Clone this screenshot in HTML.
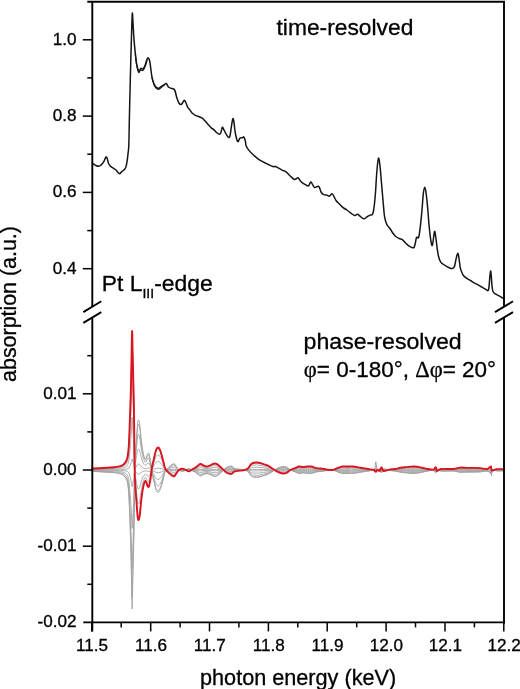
<!DOCTYPE html>
<html><head><meta charset="utf-8"><title>XAS spectra</title>
<style>html,body{margin:0;padding:0;background:#fff;width:520px;height:689px;overflow:hidden}svg{display:block}</style>
</head><body>
<svg width="520" height="689" viewBox="0 0 520 689">
<rect width="520" height="689" fill="#fff"/>
<g fill="none" stroke-linejoin="round" stroke-linecap="round">
<path d="M92.90,163.50C93.37,163.82 94.77,164.93 95.70,165.40C96.63,165.87 97.58,166.38 98.50,166.30C99.42,166.22 100.37,165.58 101.20,164.90C102.03,164.22 102.72,163.50 103.50,162.20C104.28,160.90 105.28,157.72 105.90,157.10C106.52,156.48 106.75,157.43 107.20,158.50C107.65,159.57 108.05,162.20 108.60,163.50C109.15,164.80 109.73,165.52 110.50,166.30C111.27,167.08 112.28,167.58 113.20,168.20C114.12,168.82 115.22,169.32 116.00,170.00C116.78,170.68 117.28,171.68 117.90,172.30C118.52,172.92 119.10,173.77 119.70,173.70C120.30,173.63 120.88,172.43 121.50,171.90C122.12,171.37 122.80,171.05 123.40,170.50C124.00,169.95 124.63,169.37 125.10,168.60C125.57,167.83 125.87,167.13 126.20,165.90C126.53,164.67 126.80,163.20 127.10,161.20C127.40,159.20 127.72,156.52 128.00,153.90C128.28,151.28 128.58,150.82 128.80,145.50C129.02,140.18 129.13,129.60 129.30,122.00C129.47,114.40 129.55,110.22 129.80,99.90C130.05,89.58 130.50,71.33 130.80,60.10C131.10,48.87 131.35,40.30 131.60,32.50C131.85,24.70 132.07,14.90 132.30,13.30C132.53,11.70 132.72,18.55 133.00,22.90C133.28,27.25 133.62,34.35 134.00,39.40C134.38,44.45 134.85,49.07 135.30,53.20C135.75,57.33 136.12,61.22 136.70,64.20C137.28,67.18 138.12,70.40 138.80,71.10C139.48,71.80 140.12,68.75 140.80,68.40C141.48,68.05 142.20,69.47 142.90,69.00C143.60,68.53 144.32,67.20 145.00,65.60C145.68,64.00 146.43,60.67 147.00,59.40C147.57,58.13 147.93,57.65 148.40,58.00C148.87,58.35 149.22,58.40 149.80,61.50C150.38,64.60 151.22,72.93 151.90,76.60C152.58,80.27 153.22,81.77 153.90,83.50C154.58,85.23 155.20,86.20 156.00,87.00C156.80,87.80 157.78,88.42 158.70,88.30C159.62,88.18 160.57,86.92 161.50,86.30C162.43,85.68 163.50,85.07 164.30,84.60C165.10,84.13 165.62,83.10 166.30,83.50C166.98,83.90 167.60,86.20 168.40,87.00C169.20,87.80 170.07,87.80 171.10,88.30C172.13,88.80 173.63,88.37 174.60,90.00C175.57,91.63 176.13,95.85 176.90,98.10C177.67,100.35 178.43,102.48 179.20,103.50C179.97,104.52 180.85,104.47 181.50,104.20C182.15,103.93 182.58,102.53 183.10,101.90C183.62,101.27 184.08,100.13 184.60,100.40C185.12,100.67 185.68,102.35 186.20,103.50C186.72,104.65 187.07,106.20 187.70,107.30C188.33,108.40 189.23,109.12 190.00,110.10C190.77,111.08 191.40,112.33 192.30,113.20C193.20,114.07 194.25,114.70 195.40,115.30C196.55,115.90 198.05,116.33 199.20,116.80C200.35,117.27 201.40,117.50 202.30,118.10C203.20,118.70 203.70,119.43 204.60,120.40C205.50,121.37 206.55,122.62 207.70,123.90C208.85,125.18 210.48,127.15 211.50,128.10C212.52,129.05 213.02,128.92 213.80,129.60C214.58,130.28 215.30,131.43 216.20,132.20C217.10,132.97 218.43,134.12 219.20,134.20C219.97,134.28 220.28,133.85 220.80,132.70C221.32,131.55 221.80,127.82 222.30,127.30C222.80,126.78 223.15,128.45 223.80,129.60C224.45,130.75 225.42,132.92 226.20,134.20C226.98,135.48 227.87,137.03 228.50,137.30C229.13,137.57 229.50,137.72 230.00,135.80C230.50,133.88 231.03,128.63 231.50,125.80C231.97,122.97 232.42,119.57 232.80,118.80C233.18,118.03 233.37,118.75 233.80,121.20C234.23,123.65 234.75,130.12 235.40,133.50C236.05,136.88 236.93,140.73 237.70,141.50C238.47,142.27 239.23,138.72 240.00,138.10C240.77,137.48 241.67,137.98 242.30,137.80C242.93,137.62 243.28,136.43 243.80,137.00C244.32,137.57 245.02,139.73 245.40,141.20C245.78,142.67 245.55,144.32 246.10,145.80C246.65,147.28 247.42,148.52 248.70,150.10C249.98,151.68 252.08,153.72 253.80,155.30C255.52,156.88 256.97,158.25 259.00,159.60C261.03,160.95 263.68,162.25 266.00,163.40C268.32,164.55 271.32,165.98 272.90,166.50C274.48,167.02 274.63,166.27 275.50,166.50C276.37,166.73 276.95,167.27 278.10,167.90C279.25,168.53 281.12,169.67 282.40,170.30C283.68,170.93 284.50,170.75 285.80,171.70C287.10,172.65 288.75,174.70 290.20,176.00C291.65,177.30 293.20,179.20 294.50,179.50C295.80,179.80 296.98,177.52 298.00,177.80C299.02,178.08 299.60,180.20 300.60,181.20C301.60,182.20 302.72,183.02 304.00,183.80C305.28,184.58 307.15,186.18 308.30,185.90C309.45,185.62 309.88,181.87 310.90,182.10C311.92,182.33 313.10,186.58 314.40,187.30C315.70,188.02 317.55,185.53 318.70,186.40C319.85,187.27 320.45,191.13 321.30,192.50C322.15,193.87 322.87,194.17 323.80,194.60C324.73,195.03 326.00,194.83 326.90,195.10C327.80,195.37 328.35,196.42 329.20,196.20C330.05,195.98 331.23,193.80 332.00,193.80C332.77,193.80 333.10,195.03 333.80,196.20C334.50,197.37 335.30,199.53 336.20,200.80C337.10,202.07 338.05,202.65 339.20,203.80C340.35,204.95 341.82,206.67 343.10,207.70C344.38,208.73 345.62,209.10 346.90,210.00C348.18,210.90 349.52,212.20 350.80,213.10C352.08,214.00 353.45,215.22 354.60,215.40C355.75,215.58 356.80,214.07 357.70,214.20C358.60,214.33 358.98,215.43 360.00,216.20C361.02,216.97 362.65,218.68 363.80,218.80C364.95,218.92 365.87,217.52 366.90,216.90C367.93,216.28 369.10,215.48 370.00,215.10C370.90,214.72 371.67,215.58 372.30,214.60C372.93,213.62 373.28,212.67 373.80,209.20C374.32,205.73 374.88,200.20 375.40,193.80C375.92,187.40 376.38,176.73 376.90,170.80C377.42,164.87 377.98,158.97 378.50,158.20C379.02,157.43 379.50,162.05 380.00,166.20C380.50,170.35 380.98,177.22 381.50,183.10C382.02,188.98 382.58,195.87 383.10,201.50C383.62,207.13 383.97,213.05 384.60,216.90C385.23,220.75 386.00,222.67 386.90,224.60C387.80,226.53 389.10,227.22 390.00,228.50C390.90,229.78 391.40,231.02 392.30,232.30C393.20,233.58 394.25,235.17 395.40,236.20C396.55,237.23 398.05,237.93 399.20,238.50C400.35,239.07 401.30,238.93 402.30,239.60C403.30,240.27 404.23,241.53 405.20,242.50C406.17,243.47 407.13,244.63 408.10,245.40C409.07,246.17 410.03,246.73 411.00,247.10C411.97,247.47 413.18,248.25 413.90,247.60C414.62,246.95 414.87,244.90 415.30,243.20C415.73,241.50 416.07,238.25 416.50,237.40C416.93,236.55 417.48,238.33 417.90,238.10C418.32,237.87 418.58,238.05 419.00,236.00C419.42,233.95 419.92,229.92 420.40,225.80C420.88,221.68 421.42,216.62 421.90,211.30C422.38,205.98 422.82,197.90 423.30,193.90C423.78,189.90 424.32,187.30 424.80,187.30C425.28,187.30 425.72,190.38 426.20,193.90C426.68,197.42 427.22,203.08 427.70,208.40C428.18,213.72 428.62,220.72 429.10,225.80C429.58,230.88 430.12,235.63 430.60,238.90C431.08,242.17 431.60,244.92 432.00,245.40C432.40,245.88 432.58,244.10 433.00,241.80C433.42,239.50 434.07,232.57 434.50,231.60C434.93,230.63 435.17,233.33 435.60,236.00C436.03,238.67 436.62,244.22 437.10,247.60C437.58,250.98 437.90,253.88 438.50,256.30C439.10,258.72 439.73,260.65 440.70,262.10C441.67,263.55 442.97,264.10 444.30,265.00C445.63,265.90 447.37,266.90 448.70,267.50C450.03,268.10 451.33,268.78 452.30,268.60C453.27,268.42 453.88,267.97 454.50,266.40C455.12,264.83 455.47,261.37 456.00,259.20C456.53,257.03 457.22,253.65 457.70,253.40C458.18,253.15 458.47,255.28 458.90,257.70C459.33,260.12 459.82,265.48 460.30,267.90C460.78,270.32 461.32,270.98 461.80,272.20C462.28,273.42 462.42,274.22 463.20,275.20C463.98,276.18 465.30,277.22 466.50,278.10C467.70,278.98 469.12,279.70 470.40,280.50C471.68,281.30 472.92,282.18 474.20,282.90C475.48,283.62 476.82,284.08 478.10,284.80C479.38,285.52 480.62,286.43 481.90,287.20C483.18,287.97 484.75,288.83 485.80,289.40C486.85,289.97 487.65,291.20 488.20,290.60C488.75,290.00 488.83,288.05 489.10,285.80C489.37,283.55 489.55,279.58 489.80,277.10C490.05,274.62 490.35,271.05 490.60,270.90C490.85,270.75 491.07,273.72 491.30,276.20C491.53,278.68 491.72,283.25 492.00,285.80C492.28,288.35 492.43,290.15 493.00,291.50C493.57,292.85 494.37,293.17 495.40,293.90C496.43,294.63 497.92,295.17 499.20,295.90C500.48,296.63 502.45,297.90 503.10,298.30" stroke="#151515" stroke-width="1.5"/>
<path d="M135.30,54.00C135.53,55.87 136.15,62.13 136.70,65.20C137.25,68.27 137.95,71.60 138.60,72.40C139.25,73.20 139.90,70.30 140.60,70.00C141.30,69.70 142.07,71.13 142.80,70.60C143.53,70.07 144.30,68.47 145.00,66.80C145.70,65.13 146.67,61.63 147.00,60.60" stroke="#151515" stroke-width="1.2"/>
<path d="M151.90,77.60C152.23,78.75 153.22,82.73 153.90,84.50C154.58,86.27 155.20,87.38 156.00,88.20C156.80,89.02 157.78,89.53 158.70,89.40C159.62,89.27 160.57,88.07 161.50,87.40C162.43,86.73 163.83,85.73 164.30,85.40" stroke="#151515" stroke-width="1.1"/>
<path d="M92.20,468.67C93.28,468.62 96.18,468.53 98.70,468.38C101.22,468.24 104.72,467.97 107.30,467.81C109.88,467.66 112.18,467.64 114.20,467.44C116.22,467.23 118.18,466.83 119.40,466.58C120.62,466.33 120.82,466.20 121.50,465.91C122.18,465.63 122.88,465.36 123.50,464.87C124.12,464.38 124.68,463.70 125.20,462.97C125.72,462.24 126.20,461.45 126.60,460.50C127.00,459.55 127.25,459.28 127.60,457.27C127.95,455.26 128.38,452.65 128.70,448.44C129.02,444.22 129.25,437.91 129.50,432.00C129.75,426.09 130.00,418.54 130.20,413.00C130.40,407.46 130.48,406.67 130.70,398.75C130.92,390.83 131.27,375.63 131.50,365.50C131.73,355.37 131.90,338.74 132.10,337.95C132.30,337.16 132.50,352.99 132.70,360.75C132.90,368.51 133.12,377.38 133.30,384.50C133.48,391.62 133.65,395.58 133.80,403.50C133.95,411.42 134.08,422.50 134.20,432.00C134.32,441.50 134.40,453.22 134.50,460.50C134.60,467.78 134.67,471.58 134.80,475.70C134.93,479.82 135.12,482.35 135.30,485.20C135.48,488.05 135.67,489.81 135.90,492.80C136.13,495.79 136.42,499.64 136.70,503.15C136.98,506.67 137.30,511.48 137.60,513.89C137.90,516.30 138.13,517.74 138.50,517.60C138.87,517.45 139.45,515.17 139.80,513.03C140.15,510.90 140.23,508.08 140.60,504.77C140.97,501.46 141.55,496.35 142.00,493.18C142.45,490.01 142.80,487.84 143.30,485.77C143.80,483.70 144.50,481.43 145.00,480.74C145.50,480.04 145.87,480.83 146.30,481.59C146.73,482.35 147.17,484.60 147.60,485.30C148.03,485.99 148.47,486.66 148.90,485.77C149.33,484.88 149.83,481.91 150.20,479.98C150.57,478.04 150.82,476.17 151.10,474.18C151.38,472.18 151.45,470.41 151.90,468.00C152.35,465.60 153.20,462.26 153.80,459.74C154.40,457.22 155.00,454.59 155.50,452.90C156.00,451.21 156.35,450.29 156.80,449.57C157.25,448.86 157.70,448.47 158.20,448.62C158.70,448.78 159.25,449.43 159.80,450.52C160.35,451.62 160.88,453.18 161.50,455.18C162.12,457.17 162.93,460.36 163.50,462.50C164.07,464.63 164.35,466.63 164.90,468.00C165.45,469.38 166.08,469.92 166.80,470.76C167.52,471.60 168.32,472.28 169.20,473.04C170.08,473.80 171.22,474.86 172.10,475.32C172.98,475.78 173.78,476.18 174.50,475.80C175.22,475.42 175.68,473.96 176.40,473.04C177.12,472.12 177.92,470.98 178.80,470.29C179.68,469.59 180.73,469.02 181.70,468.86C182.67,468.70 183.63,469.02 184.60,469.34C185.57,469.65 186.70,470.44 187.50,470.76C188.30,471.08 188.60,471.47 189.40,471.24C190.20,471.00 191.33,469.87 192.30,469.34C193.27,468.80 194.23,468.61 195.20,468.00C196.17,467.40 197.20,466.34 198.10,465.73C199.00,465.11 199.45,464.21 200.60,464.30C201.75,464.39 203.68,465.96 205.00,466.30C206.32,466.63 207.18,466.63 208.50,466.30C209.82,465.96 211.57,464.66 212.90,464.30C214.23,463.94 215.07,463.49 216.50,464.11C217.93,464.73 220.02,466.75 221.50,468.00C222.98,469.26 224.12,470.70 225.40,471.62C226.68,472.53 228.08,473.20 229.20,473.51C230.32,473.83 231.30,473.83 232.10,473.51C232.90,473.20 233.03,472.07 234.00,471.62C234.97,471.16 236.45,470.97 237.90,470.76C239.35,470.55 241.10,470.70 242.70,470.38C244.30,470.06 246.07,469.87 247.50,468.86C248.93,467.85 250.18,465.27 251.30,464.30C252.42,463.33 252.97,463.27 254.20,463.06C255.43,462.86 257.15,462.83 258.70,463.06C260.25,463.30 261.90,464.00 263.50,464.49C265.10,464.98 266.70,465.25 268.30,466.01C269.90,466.77 271.50,468.08 273.10,469.05C274.70,470.02 276.30,471.09 277.90,471.80C279.50,472.52 281.27,473.17 282.70,473.32C284.13,473.48 285.22,473.31 286.50,472.75C287.78,472.20 288.95,470.76 290.40,470.00C291.85,469.24 293.77,468.75 295.20,468.20C296.63,467.64 297.72,466.83 299.00,466.68C300.28,466.52 301.45,467.25 302.90,467.25C304.35,467.25 306.27,466.77 307.70,466.68C309.13,466.58 310.07,466.42 311.50,466.68C312.93,466.93 314.68,467.88 316.30,468.20C317.92,468.51 319.43,468.34 321.20,468.57C322.97,468.81 324.98,469.38 326.90,469.62C328.82,469.86 330.93,470.24 332.70,470.00C334.47,469.76 335.90,468.75 337.50,468.20C339.10,467.64 340.53,466.93 342.30,466.68C344.07,466.42 346.37,466.68 348.10,466.68C349.83,466.68 350.65,466.49 352.70,466.68C354.75,466.87 357.83,467.42 360.40,467.81C362.97,468.21 365.87,468.69 368.10,469.05C370.33,469.41 372.52,469.54 373.80,470.00C375.08,470.46 375.15,471.87 375.80,471.80C376.45,471.74 377.07,469.76 377.70,469.62C378.33,469.48 378.97,471.35 379.60,470.95C380.23,470.55 380.85,467.25 381.50,467.25C382.15,467.25 382.22,470.55 383.50,470.95C384.78,471.35 387.28,469.94 389.20,469.62C391.12,469.30 393.07,469.35 395.00,469.05C396.93,468.75 398.88,468.12 400.80,467.81C402.72,467.51 404.27,467.44 406.50,467.25C408.73,467.06 411.63,466.58 414.20,466.68C416.77,466.77 419.65,467.42 421.90,467.81C424.15,468.21 425.77,468.75 427.70,469.05C429.63,469.35 432.15,469.92 433.50,469.62C434.85,469.32 435.23,467.02 435.80,467.25C436.37,467.47 436.00,470.65 436.90,470.95C437.80,471.25 438.43,469.37 441.20,469.05C443.97,468.73 450.33,469.27 453.50,469.05C456.67,468.83 457.97,467.89 460.20,467.72C462.43,467.55 464.67,467.96 466.90,468.00C469.13,468.05 471.35,467.97 473.60,468.00C475.85,468.04 478.15,468.02 480.40,468.20C482.65,468.37 485.35,469.30 487.10,469.05C488.85,468.80 490.12,466.42 490.90,466.68C491.68,466.93 490.87,470.14 491.80,470.57C492.73,471.00 494.58,469.46 496.50,469.24C498.42,469.02 502.17,469.24 503.30,469.24" stroke="#a2a2a2" stroke-width="0.9"/>
<path d="M92.20,469.05C93.28,469.01 96.18,468.95 98.70,468.84C101.22,468.74 104.72,468.55 107.30,468.44C109.88,468.32 112.18,468.31 114.20,468.16C116.22,468.02 118.18,467.73 119.40,467.55C120.62,467.37 120.82,467.28 121.50,467.08C122.18,466.87 122.88,466.68 123.50,466.33C124.12,465.98 124.68,465.49 125.20,464.97C125.72,464.45 126.20,463.88 126.60,463.20C127.00,462.52 127.25,462.33 127.60,460.89C127.95,459.45 128.38,457.58 128.70,454.56C129.02,451.55 129.25,447.03 129.50,442.80C129.75,438.57 130.00,433.17 130.20,429.20C130.40,425.23 130.48,424.67 130.70,419.00C130.92,413.33 131.27,402.45 131.50,395.20C131.73,387.95 131.90,376.05 132.10,375.48C132.30,374.91 132.50,386.25 132.70,391.80C132.90,397.35 133.12,403.70 133.30,408.80C133.48,413.90 133.65,416.73 133.80,422.40C133.95,428.07 134.08,436.00 134.20,442.80C134.32,449.60 134.40,457.99 134.50,463.20C134.60,468.41 134.67,471.13 134.80,474.08C134.93,477.03 135.12,478.84 135.30,480.88C135.48,482.92 135.67,484.18 135.90,486.32C136.13,488.46 136.42,491.22 136.70,493.73C136.98,496.25 137.30,499.69 137.60,501.42C137.90,503.14 138.13,504.17 138.50,504.07C138.87,503.97 139.45,502.33 139.80,500.80C140.15,499.27 140.23,497.26 140.60,494.89C140.97,492.52 141.55,488.86 142.00,486.59C142.45,484.33 142.80,482.77 143.30,481.29C143.80,479.80 144.50,478.18 145.00,477.68C145.50,477.19 145.87,477.75 146.30,478.30C146.73,478.84 147.17,480.45 147.60,480.95C148.03,481.45 148.47,481.92 148.90,481.29C149.33,480.65 149.83,478.52 150.20,477.14C150.57,475.76 150.82,474.42 151.10,472.99C151.38,471.56 151.45,470.29 151.90,468.57C152.35,466.85 153.20,464.46 153.80,462.66C154.40,460.85 155.00,458.97 155.50,457.76C156.00,456.55 156.35,455.89 156.80,455.38C157.25,454.87 157.70,454.59 158.20,454.70C158.70,454.81 159.25,455.28 159.80,456.06C160.35,456.84 160.88,457.96 161.50,459.39C162.12,460.82 162.93,463.10 163.50,464.63C164.07,466.16 164.35,467.59 164.90,468.57C165.45,469.56 166.08,469.94 166.80,470.54C167.52,471.14 168.32,471.63 169.20,472.18C170.08,472.72 171.22,473.48 172.10,473.81C172.98,474.14 173.78,474.42 174.50,474.15C175.22,473.88 175.68,472.83 176.40,472.18C177.12,471.52 177.92,470.70 178.80,470.20C179.68,469.71 180.73,469.30 181.70,469.18C182.67,469.07 183.63,469.30 184.60,469.52C185.57,469.75 186.70,470.32 187.50,470.54C188.30,470.77 188.60,471.05 189.40,470.88C190.20,470.71 191.33,469.91 192.30,469.52C193.27,469.14 194.23,469.00 195.20,468.57C196.17,468.14 197.20,467.38 198.10,466.94C199.00,466.50 199.45,465.85 200.60,465.92C201.75,465.99 203.68,467.11 205.00,467.35C206.32,467.59 207.18,467.59 208.50,467.35C209.82,467.11 211.57,466.18 212.90,465.92C214.23,465.66 215.07,465.34 216.50,465.78C217.93,466.23 220.02,467.68 221.50,468.57C222.98,469.47 224.12,470.50 225.40,471.16C226.68,471.81 228.08,472.29 229.20,472.52C230.32,472.74 231.30,472.74 232.10,472.52C232.90,472.29 233.03,471.48 234.00,471.16C234.97,470.83 236.45,470.69 237.90,470.54C239.35,470.40 241.10,470.50 242.70,470.27C244.30,470.05 246.07,469.91 247.50,469.18C248.93,468.46 250.18,466.61 251.30,465.92C252.42,465.23 252.97,465.18 254.20,465.04C255.43,464.89 257.15,464.87 258.70,465.04C260.25,465.21 261.90,465.70 263.50,466.06C265.10,466.41 266.70,466.60 268.30,467.14C269.90,467.69 271.50,468.63 273.10,469.32C274.70,470.01 276.30,470.78 277.90,471.29C279.50,471.80 281.27,472.27 282.70,472.38C284.13,472.49 285.22,472.37 286.50,471.97C287.78,471.58 288.95,470.54 290.40,470.00C291.85,469.46 293.77,469.10 295.20,468.71C296.63,468.31 297.72,467.73 299.00,467.62C300.28,467.51 301.45,468.03 302.90,468.03C304.35,468.03 306.27,467.69 307.70,467.62C309.13,467.55 310.07,467.44 311.50,467.62C312.93,467.80 314.68,468.48 316.30,468.71C317.92,468.93 319.43,468.81 321.20,468.98C322.97,469.15 324.98,469.56 326.90,469.73C328.82,469.90 330.93,470.17 332.70,470.00C334.47,469.83 335.90,469.10 337.50,468.71C339.10,468.31 340.53,467.80 342.30,467.62C344.07,467.44 346.37,467.62 348.10,467.62C349.83,467.62 350.65,467.48 352.70,467.62C354.75,467.76 357.83,468.15 360.40,468.44C362.97,468.72 365.87,469.06 368.10,469.32C370.33,469.58 372.52,469.67 373.80,470.00C375.08,470.33 375.15,471.34 375.80,471.29C376.45,471.25 377.07,469.83 377.70,469.73C378.33,469.63 378.97,470.96 379.60,470.68C380.23,470.40 380.85,468.03 381.50,468.03C382.15,468.03 382.22,470.40 383.50,470.68C384.78,470.96 387.28,469.95 389.20,469.73C391.12,469.50 393.07,469.54 395.00,469.32C396.93,469.10 398.88,468.65 400.80,468.44C402.72,468.22 404.27,468.16 406.50,468.03C408.73,467.89 411.63,467.55 414.20,467.62C416.77,467.69 419.65,468.15 421.90,468.44C424.15,468.72 425.77,469.10 427.70,469.32C429.63,469.54 432.15,469.94 433.50,469.73C434.85,469.51 435.23,467.87 435.80,468.03C436.37,468.19 436.00,470.46 436.90,470.68C437.80,470.90 438.43,469.55 441.20,469.32C443.97,469.09 450.33,469.48 453.50,469.32C456.67,469.16 457.97,468.49 460.20,468.37C462.43,468.24 464.67,468.54 466.90,468.57C469.13,468.61 471.35,468.55 473.60,468.57C475.85,468.59 478.15,468.58 480.40,468.71C482.65,468.83 485.35,469.50 487.10,469.32C488.85,469.14 490.12,467.44 490.90,467.62C491.68,467.80 490.87,470.10 491.80,470.41C492.73,470.71 494.58,469.61 496.50,469.46C498.42,469.30 502.17,469.46 503.30,469.46" stroke="#a2a2a2" stroke-width="0.9"/>
<path d="M92.20,469.47C93.28,469.45 96.18,469.41 98.70,469.35C101.22,469.30 104.72,469.19 107.30,469.13C109.88,469.06 112.18,469.06 114.20,468.97C116.22,468.89 118.18,468.73 119.40,468.63C120.62,468.53 120.82,468.48 121.50,468.37C122.18,468.25 122.88,468.14 123.50,467.95C124.12,467.75 124.68,467.48 125.20,467.19C125.72,466.90 126.20,466.58 126.60,466.20C127.00,465.82 127.25,465.71 127.60,464.91C127.95,464.10 128.38,463.06 128.70,461.37C129.02,459.69 129.25,457.16 129.50,454.80C129.75,452.44 130.00,449.42 130.20,447.20C130.40,444.98 130.48,444.67 130.70,441.50C130.92,438.33 131.27,432.25 131.50,428.20C131.73,424.15 131.90,417.50 132.10,417.18C132.30,416.86 132.50,423.20 132.70,426.30C132.90,429.40 133.12,432.95 133.30,435.80C133.48,438.65 133.65,440.23 133.80,443.40C133.95,446.57 134.08,451.00 134.20,454.80C134.32,458.60 134.40,463.29 134.50,466.20C134.60,469.11 134.67,470.63 134.80,472.28C134.93,473.93 135.12,474.94 135.30,476.08C135.48,477.22 135.67,477.92 135.90,479.12C136.13,480.32 136.42,481.86 136.70,483.26C136.98,484.67 137.30,486.59 137.60,487.56C137.90,488.52 138.13,489.10 138.50,489.04C138.87,488.98 139.45,488.07 139.80,487.21C140.15,486.36 140.23,485.23 140.60,483.91C140.97,482.58 141.55,480.54 142.00,479.27C142.45,478.01 142.80,477.14 143.30,476.31C143.80,475.48 144.50,474.57 145.00,474.29C145.50,474.02 145.87,474.33 146.30,474.64C146.73,474.94 147.17,475.84 147.60,476.12C148.03,476.40 148.47,476.66 148.90,476.31C149.33,475.95 149.83,474.76 150.20,473.99C150.57,473.22 150.82,472.47 151.10,471.67C151.38,470.87 151.45,470.16 151.90,469.20C152.35,468.24 153.20,466.90 153.80,465.90C154.40,464.89 155.00,463.84 155.50,463.16C156.00,462.48 156.35,462.12 156.80,461.83C157.25,461.54 157.70,461.39 158.20,461.45C158.70,461.51 159.25,461.77 159.80,462.21C160.35,462.65 160.88,463.27 161.50,464.07C162.12,464.87 162.93,466.14 163.50,467.00C164.07,467.85 164.35,468.65 164.90,469.20C165.45,469.75 166.08,469.97 166.80,470.30C167.52,470.64 168.32,470.91 169.20,471.22C170.08,471.52 171.22,471.94 172.10,472.13C172.98,472.31 173.78,472.47 174.50,472.32C175.22,472.17 175.68,471.58 176.40,471.22C177.12,470.85 177.92,470.39 178.80,470.11C179.68,469.84 180.73,469.61 181.70,469.54C182.67,469.48 183.63,469.61 184.60,469.73C185.57,469.86 186.70,470.18 187.50,470.30C188.30,470.43 188.60,470.59 189.40,470.49C190.20,470.40 191.33,469.95 192.30,469.73C193.27,469.52 194.23,469.44 195.20,469.20C196.17,468.96 197.20,468.54 198.10,468.29C199.00,468.04 199.45,467.68 200.60,467.72C201.75,467.76 203.68,468.39 205.00,468.52C206.32,468.65 207.18,468.65 208.50,468.52C209.82,468.39 211.57,467.87 212.90,467.72C214.23,467.57 215.07,467.40 216.50,467.64C217.93,467.89 220.02,468.70 221.50,469.20C222.98,469.70 224.12,470.28 225.40,470.65C226.68,471.01 228.08,471.28 229.20,471.41C230.32,471.53 231.30,471.53 232.10,471.41C232.90,471.28 233.03,470.83 234.00,470.65C234.97,470.46 236.45,470.39 237.90,470.30C239.35,470.22 241.10,470.28 242.70,470.15C244.30,470.03 246.07,469.95 247.50,469.54C248.93,469.14 250.18,468.11 251.30,467.72C252.42,467.33 252.97,467.31 254.20,467.23C255.43,467.14 257.15,467.13 258.70,467.23C260.25,467.32 261.90,467.60 263.50,467.80C265.10,467.99 266.70,468.10 268.30,468.40C269.90,468.71 271.50,469.23 273.10,469.62C274.70,470.01 276.30,470.44 277.90,470.72C279.50,471.01 281.27,471.27 282.70,471.33C284.13,471.39 285.22,471.32 286.50,471.10C287.78,470.88 288.95,470.30 290.40,470.00C291.85,469.70 293.77,469.50 295.20,469.28C296.63,469.06 297.72,468.73 299.00,468.67C300.28,468.61 301.45,468.90 302.90,468.90C304.35,468.90 306.27,468.71 307.70,468.67C309.13,468.63 310.07,468.57 311.50,468.67C312.93,468.77 314.68,469.15 316.30,469.28C317.92,469.40 319.43,469.34 321.20,469.43C322.97,469.52 324.98,469.75 326.90,469.85C328.82,469.94 330.93,470.10 332.70,470.00C334.47,469.90 335.90,469.50 337.50,469.28C339.10,469.06 340.53,468.77 342.30,468.67C344.07,468.57 346.37,468.67 348.10,468.67C349.83,468.67 350.65,468.59 352.70,468.67C354.75,468.75 357.83,468.97 360.40,469.13C362.97,469.28 365.87,469.47 368.10,469.62C370.33,469.77 372.52,469.82 373.80,470.00C375.08,470.18 375.15,470.75 375.80,470.72C376.45,470.70 377.07,469.91 377.70,469.85C378.33,469.79 378.97,470.54 379.60,470.38C380.23,470.22 380.85,468.90 381.50,468.90C382.15,468.90 382.22,470.22 383.50,470.38C384.78,470.54 387.28,469.97 389.20,469.85C391.12,469.72 393.07,469.74 395.00,469.62C396.93,469.50 398.88,469.25 400.80,469.13C402.72,469.01 404.27,468.97 406.50,468.90C408.73,468.82 411.63,468.63 414.20,468.67C416.77,468.71 419.65,468.97 421.90,469.13C424.15,469.28 425.77,469.50 427.70,469.62C429.63,469.74 432.15,469.97 433.50,469.85C434.85,469.73 435.23,468.81 435.80,468.90C436.37,468.99 436.00,470.26 436.90,470.38C437.80,470.50 438.43,469.75 441.20,469.62C443.97,469.49 450.33,469.71 453.50,469.62C456.67,469.53 457.97,469.16 460.20,469.09C462.43,469.02 464.67,469.18 466.90,469.20C469.13,469.22 471.35,469.19 473.60,469.20C475.85,469.21 478.15,469.21 480.40,469.28C482.65,469.35 485.35,469.72 487.10,469.62C488.85,469.52 490.12,468.57 490.90,468.67C491.68,468.77 490.87,470.06 491.80,470.23C492.73,470.40 494.58,469.78 496.50,469.70C498.42,469.61 502.17,469.70 503.30,469.70" stroke="#a2a2a2" stroke-width="0.9"/>
<path d="M92.20,469.89C93.28,469.88 96.18,469.88 98.70,469.86C101.22,469.85 104.72,469.83 107.30,469.82C109.88,469.80 112.18,469.80 114.20,469.78C116.22,469.77 118.18,469.73 119.40,469.71C120.62,469.69 120.82,469.68 121.50,469.66C122.18,469.63 122.88,469.61 123.50,469.57C124.12,469.53 124.68,469.47 125.20,469.41C125.72,469.35 126.20,469.28 126.60,469.20C127.00,469.12 127.25,469.10 127.60,468.93C127.95,468.76 128.38,468.54 128.70,468.18C129.02,467.83 129.25,467.30 129.50,466.80C129.75,466.30 130.00,465.67 130.20,465.20C130.40,464.73 130.48,464.67 130.70,464.00C130.92,463.33 131.27,462.05 131.50,461.20C131.73,460.35 131.90,458.95 132.10,458.88C132.30,458.81 132.50,460.15 132.70,460.80C132.90,461.45 133.12,462.20 133.30,462.80C133.48,463.40 133.65,463.73 133.80,464.40C133.95,465.07 134.08,466.00 134.20,466.80C134.32,467.60 134.40,468.59 134.50,469.20C134.60,469.81 134.67,470.13 134.80,470.48C134.93,470.83 135.12,471.04 135.30,471.28C135.48,471.52 135.67,471.67 135.90,471.92C136.13,472.17 136.42,472.50 136.70,472.79C136.98,473.09 137.30,473.49 137.60,473.70C137.90,473.90 138.13,474.02 138.50,474.01C138.87,474.00 139.45,473.80 139.80,473.62C140.15,473.44 140.23,473.21 140.60,472.93C140.97,472.65 141.55,472.22 142.00,471.95C142.45,471.69 142.80,471.50 143.30,471.33C143.80,471.15 144.50,470.96 145.00,470.90C145.50,470.85 145.87,470.91 146.30,470.98C146.73,471.04 147.17,471.23 147.60,471.29C148.03,471.35 148.47,471.40 148.90,471.33C149.33,471.25 149.83,471.00 150.20,470.84C150.57,470.68 150.82,470.52 151.10,470.35C151.38,470.18 151.45,470.03 151.90,469.83C152.35,469.63 153.20,469.35 153.80,469.14C154.40,468.92 155.00,468.70 155.50,468.56C156.00,468.42 156.35,468.34 156.80,468.28C157.25,468.22 157.70,468.19 158.20,468.20C158.70,468.21 159.25,468.27 159.80,468.36C160.35,468.45 160.88,468.58 161.50,468.75C162.12,468.92 162.93,469.19 163.50,469.37C164.07,469.55 164.35,469.72 164.90,469.83C165.45,469.95 166.08,469.99 166.80,470.06C167.52,470.13 168.32,470.19 169.20,470.26C170.08,470.32 171.22,470.41 172.10,470.45C172.98,470.49 173.78,470.52 174.50,470.49C175.22,470.46 175.68,470.33 176.40,470.26C177.12,470.18 177.92,470.08 178.80,470.02C179.68,469.97 180.73,469.92 181.70,469.90C182.67,469.89 183.63,469.92 184.60,469.94C185.57,469.97 186.70,470.04 187.50,470.06C188.30,470.09 188.60,470.12 189.40,470.10C190.20,470.08 191.33,469.99 192.30,469.94C193.27,469.90 194.23,469.88 195.20,469.83C196.17,469.78 197.20,469.69 198.10,469.64C199.00,469.59 199.45,469.51 200.60,469.52C201.75,469.53 203.68,469.66 205.00,469.69C206.32,469.72 207.18,469.72 208.50,469.69C209.82,469.66 211.57,469.55 212.90,469.52C214.23,469.49 215.07,469.45 216.50,469.50C217.93,469.56 220.02,469.73 221.50,469.83C222.98,469.94 224.12,470.06 225.40,470.14C226.68,470.21 228.08,470.27 229.20,470.30C230.32,470.32 231.30,470.32 232.10,470.30C232.90,470.27 233.03,470.17 234.00,470.14C234.97,470.10 236.45,470.08 237.90,470.06C239.35,470.05 241.10,470.06 242.70,470.03C244.30,470.01 246.07,469.99 247.50,469.90C248.93,469.82 250.18,469.60 251.30,469.52C252.42,469.44 252.97,469.43 254.20,469.42C255.43,469.40 257.15,469.40 258.70,469.42C260.25,469.44 261.90,469.49 263.50,469.54C265.10,469.58 266.70,469.60 268.30,469.66C269.90,469.73 271.50,469.84 273.10,469.92C274.70,470.00 276.30,470.09 277.90,470.15C279.50,470.21 281.27,470.27 282.70,470.28C284.13,470.29 285.22,470.28 286.50,470.23C287.78,470.19 288.95,470.06 290.40,470.00C291.85,469.94 293.77,469.89 295.20,469.85C296.63,469.80 297.72,469.73 299.00,469.72C300.28,469.71 301.45,469.77 302.90,469.77C304.35,469.77 306.27,469.73 307.70,469.72C309.13,469.71 310.07,469.70 311.50,469.72C312.93,469.74 314.68,469.82 316.30,469.85C317.92,469.87 319.43,469.86 321.20,469.88C322.97,469.90 324.98,469.95 326.90,469.97C328.82,469.99 330.93,470.02 332.70,470.00C334.47,469.98 335.90,469.89 337.50,469.85C339.10,469.80 340.53,469.74 342.30,469.72C344.07,469.70 346.37,469.72 348.10,469.72C349.83,469.72 350.65,469.70 352.70,469.72C354.75,469.74 357.83,469.78 360.40,469.82C362.97,469.85 365.87,469.89 368.10,469.92C370.33,469.95 372.52,469.96 373.80,470.00C375.08,470.04 375.15,470.16 375.80,470.15C376.45,470.15 377.07,469.98 377.70,469.97C378.33,469.96 378.97,470.11 379.60,470.08C380.23,470.05 380.85,469.77 381.50,469.77C382.15,469.77 382.22,470.05 383.50,470.08C384.78,470.11 387.28,469.99 389.20,469.97C391.12,469.94 393.07,469.95 395.00,469.92C396.93,469.89 398.88,469.84 400.80,469.82C402.72,469.79 404.27,469.78 406.50,469.77C408.73,469.75 411.63,469.71 414.20,469.72C416.77,469.73 419.65,469.78 421.90,469.82C424.15,469.85 425.77,469.89 427.70,469.92C429.63,469.95 432.15,469.99 433.50,469.97C434.85,469.94 435.23,469.75 435.80,469.77C436.37,469.79 436.00,470.05 436.90,470.08C437.80,470.11 438.43,469.95 441.20,469.92C443.97,469.89 450.33,469.94 453.50,469.92C456.67,469.90 457.97,469.82 460.20,469.81C462.43,469.79 464.67,469.83 466.90,469.83C469.13,469.84 471.35,469.83 473.60,469.83C475.85,469.83 478.15,469.83 480.40,469.85C482.65,469.86 485.35,469.94 487.10,469.92C488.85,469.90 490.12,469.70 490.90,469.72C491.68,469.74 490.87,470.01 491.80,470.05C492.73,470.08 494.58,469.95 496.50,469.94C498.42,469.92 502.17,469.94 503.30,469.94" stroke="#a2a2a2" stroke-width="0.9"/>
<path d="M92.20,470.17C93.28,470.17 96.18,470.19 98.70,470.20C101.22,470.22 104.72,470.26 107.30,470.28C109.88,470.30 112.18,470.30 114.20,470.32C116.22,470.35 118.18,470.40 119.40,470.43C120.62,470.46 120.82,470.48 121.50,470.52C122.18,470.55 122.88,470.59 123.50,470.65C124.12,470.71 124.68,470.80 125.20,470.89C125.72,470.98 126.20,471.08 126.60,471.20C127.00,471.32 127.25,471.35 127.60,471.61C127.95,471.86 128.38,472.19 128.70,472.72C129.02,473.26 129.25,474.05 129.50,474.80C129.75,475.55 130.00,476.50 130.20,477.20C130.40,477.90 130.48,478.00 130.70,479.00C130.92,480.00 131.27,481.92 131.50,483.20C131.73,484.48 131.90,486.58 132.10,486.68C132.30,486.78 132.50,484.78 132.70,483.80C132.90,482.82 133.12,481.70 133.30,480.80C133.48,479.90 133.65,479.40 133.80,478.40C133.95,477.40 134.08,476.00 134.20,474.80C134.32,473.60 134.40,472.12 134.50,471.20C134.60,470.28 134.67,469.80 134.80,469.28C134.93,468.76 135.12,468.44 135.30,468.08C135.48,467.72 135.67,467.50 135.90,467.12C136.13,466.74 136.42,466.26 136.70,465.81C136.98,465.37 137.30,464.76 137.60,464.46C137.90,464.15 138.13,463.97 138.50,463.99C138.87,464.01 139.45,464.29 139.80,464.56C140.15,464.83 140.23,465.19 140.60,465.61C140.97,466.03 141.55,466.67 142.00,467.07C142.45,467.47 142.80,467.75 143.30,468.01C143.80,468.27 144.50,468.56 145.00,468.64C145.50,468.73 145.87,468.63 146.30,468.54C146.73,468.44 147.17,468.16 147.60,468.07C148.03,467.98 148.47,467.90 148.90,468.01C149.33,468.12 149.83,468.50 150.20,468.74C150.57,468.98 150.82,469.22 151.10,469.47C151.38,469.72 151.45,469.95 151.90,470.25C152.35,470.56 153.20,470.98 153.80,471.30C154.40,471.61 155.00,471.95 155.50,472.16C156.00,472.37 156.35,472.49 156.80,472.58C157.25,472.67 157.70,472.72 158.20,472.70C158.70,472.68 159.25,472.60 159.80,472.46C160.35,472.32 160.88,472.12 161.50,471.87C162.12,471.62 162.93,471.22 163.50,470.95C164.07,470.68 164.35,470.43 164.90,470.25C165.45,470.08 166.08,470.01 166.80,469.90C167.52,469.80 168.32,469.71 169.20,469.62C170.08,469.52 171.22,469.39 172.10,469.33C172.98,469.27 173.78,469.22 174.50,469.27C175.22,469.32 175.68,469.50 176.40,469.62C177.12,469.73 177.92,469.88 178.80,469.96C179.68,470.05 180.73,470.12 181.70,470.14C182.67,470.16 183.63,470.12 184.60,470.08C185.57,470.04 186.70,469.94 187.50,469.90C188.30,469.86 188.60,469.81 189.40,469.84C190.20,469.87 191.33,470.02 192.30,470.08C193.27,470.15 194.23,470.18 195.20,470.25C196.17,470.33 197.20,470.46 198.10,470.54C199.00,470.62 199.45,470.73 200.60,470.72C201.75,470.71 203.68,470.51 205.00,470.47C206.32,470.43 207.18,470.43 208.50,470.47C209.82,470.51 211.57,470.67 212.90,470.72C214.23,470.77 215.07,470.82 216.50,470.74C217.93,470.67 220.02,470.41 221.50,470.25C222.98,470.09 224.12,469.91 225.40,469.80C226.68,469.68 228.08,469.60 229.20,469.56C230.32,469.52 231.30,469.52 232.10,469.56C232.90,469.60 233.03,469.74 234.00,469.80C234.97,469.85 236.45,469.88 237.90,469.90C239.35,469.93 241.10,469.91 242.70,469.95C244.30,469.99 246.07,470.02 247.50,470.14C248.93,470.27 250.18,470.60 251.30,470.72C252.42,470.84 252.97,470.85 254.20,470.88C255.43,470.90 257.15,470.91 258.70,470.88C260.25,470.85 261.90,470.76 263.50,470.70C265.10,470.63 266.70,470.60 268.30,470.50C269.90,470.41 271.50,470.24 273.10,470.12C274.70,470.00 276.30,469.86 277.90,469.77C279.50,469.68 281.27,469.60 282.70,469.58C284.13,469.56 285.22,469.58 286.50,469.65C287.78,469.72 288.95,469.90 290.40,470.00C291.85,470.10 293.77,470.16 295.20,470.23C296.63,470.30 297.72,470.40 299.00,470.42C300.28,470.44 301.45,470.35 302.90,470.35C304.35,470.35 306.27,470.41 307.70,470.42C309.13,470.43 310.07,470.45 311.50,470.42C312.93,470.39 314.68,470.27 316.30,470.23C317.92,470.19 319.43,470.21 321.20,470.18C322.97,470.15 324.98,470.08 326.90,470.05C328.82,470.02 330.93,469.97 332.70,470.00C334.47,470.03 335.90,470.16 337.50,470.23C339.10,470.30 340.53,470.39 342.30,470.42C344.07,470.45 346.37,470.42 348.10,470.42C349.83,470.42 350.65,470.44 352.70,470.42C354.75,470.40 357.83,470.33 360.40,470.28C362.97,470.23 365.87,470.17 368.10,470.12C370.33,470.07 372.52,470.06 373.80,470.00C375.08,469.94 375.15,469.76 375.80,469.77C376.45,469.78 377.07,470.03 377.70,470.05C378.33,470.07 378.97,469.83 379.60,469.88C380.23,469.93 380.85,470.35 381.50,470.35C382.15,470.35 382.22,469.93 383.50,469.88C384.78,469.83 387.28,470.01 389.20,470.05C391.12,470.09 393.07,470.08 395.00,470.12C396.93,470.16 398.88,470.24 400.80,470.28C402.72,470.31 404.27,470.32 406.50,470.35C408.73,470.37 411.63,470.43 414.20,470.42C416.77,470.41 419.65,470.33 421.90,470.28C424.15,470.23 425.77,470.16 427.70,470.12C429.63,470.08 432.15,470.01 433.50,470.05C434.85,470.09 435.23,470.38 435.80,470.35C436.37,470.32 436.00,469.92 436.90,469.88C437.80,469.84 438.43,470.08 441.20,470.12C443.97,470.16 450.33,470.09 453.50,470.12C456.67,470.15 457.97,470.27 460.20,470.29C462.43,470.31 464.67,470.26 466.90,470.25C469.13,470.25 471.35,470.26 473.60,470.25C475.85,470.25 478.15,470.25 480.40,470.23C482.65,470.21 485.35,470.09 487.10,470.12C488.85,470.15 490.12,470.45 490.90,470.42C491.68,470.39 490.87,469.98 491.80,469.93C492.73,469.87 494.58,470.07 496.50,470.10C498.42,470.12 502.17,470.10 503.30,470.10" stroke="#a2a2a2" stroke-width="0.9"/>
<path d="M92.20,470.59C93.28,470.61 96.18,470.65 98.70,470.71C101.22,470.78 104.72,470.90 107.30,470.97C109.88,471.04 112.18,471.04 114.20,471.13C116.22,471.23 118.18,471.40 119.40,471.51C120.62,471.62 120.82,471.68 121.50,471.81C122.18,471.93 122.88,472.05 123.50,472.27C124.12,472.48 124.68,472.79 125.20,473.11C125.72,473.43 126.20,473.78 126.60,474.20C127.00,474.62 127.25,474.74 127.60,475.63C127.95,476.52 128.38,477.67 128.70,479.53C129.02,481.40 129.25,484.19 129.50,486.80C129.75,489.41 130.00,492.75 130.20,495.20C130.40,497.65 130.48,498.00 130.70,501.50C130.92,505.00 131.27,511.72 131.50,516.20C131.73,520.68 131.90,528.03 132.10,528.38C132.30,528.73 132.50,521.73 132.70,518.30C132.90,514.87 133.12,510.95 133.30,507.80C133.48,504.65 133.65,502.90 133.80,499.40C133.95,495.90 134.08,491.00 134.20,486.80C134.32,482.60 134.40,477.42 134.50,474.20C134.60,470.98 134.67,469.30 134.80,467.48C134.93,465.66 135.12,464.54 135.30,463.28C135.48,462.02 135.67,461.24 135.90,459.92C136.13,458.60 136.42,456.90 136.70,455.34C136.98,453.79 137.30,451.66 137.60,450.60C137.90,449.53 138.13,448.89 138.50,448.96C138.87,449.02 139.45,450.03 139.80,450.97C140.15,451.92 140.23,453.16 140.60,454.63C140.97,456.09 141.55,458.35 142.00,459.75C142.45,461.15 142.80,462.11 143.30,463.03C143.80,463.94 144.50,464.95 145.00,465.25C145.50,465.56 145.87,465.21 146.30,464.88C146.73,464.54 147.17,463.55 147.60,463.24C148.03,462.93 148.47,462.64 148.90,463.03C149.33,463.42 149.83,464.74 150.20,465.59C150.57,466.44 150.82,467.27 151.10,468.15C151.38,469.03 151.45,469.82 151.90,470.88C152.35,471.95 153.20,473.42 153.80,474.54C154.40,475.65 155.00,476.81 155.50,477.56C156.00,478.31 156.35,478.71 156.80,479.03C157.25,479.34 157.70,479.52 158.20,479.45C158.70,479.38 159.25,479.09 159.80,478.61C160.35,478.13 160.88,477.43 161.50,476.55C162.12,475.67 162.93,474.26 163.50,473.32C164.07,472.37 164.35,471.49 164.90,470.88C165.45,470.27 166.08,470.03 166.80,469.66C167.52,469.29 168.32,468.99 169.20,468.66C170.08,468.32 171.22,467.85 172.10,467.65C172.98,467.44 173.78,467.27 174.50,467.44C175.22,467.61 175.68,468.25 176.40,468.66C177.12,469.06 177.92,469.57 178.80,469.87C179.68,470.18 180.73,470.43 181.70,470.50C182.67,470.57 183.63,470.43 184.60,470.29C185.57,470.15 186.70,469.80 187.50,469.66C188.30,469.52 188.60,469.35 189.40,469.45C190.20,469.56 191.33,470.06 192.30,470.29C193.27,470.53 194.23,470.62 195.20,470.88C196.17,471.15 197.20,471.62 198.10,471.89C199.00,472.16 199.45,472.56 200.60,472.52C201.75,472.48 203.68,471.78 205.00,471.64C206.32,471.49 207.18,471.49 208.50,471.64C209.82,471.78 211.57,472.36 212.90,472.52C214.23,472.68 215.07,472.88 216.50,472.60C217.93,472.33 220.02,471.44 221.50,470.88C222.98,470.33 224.12,469.69 225.40,469.29C226.68,468.88 228.08,468.59 229.20,468.45C230.32,468.31 231.30,468.31 232.10,468.45C232.90,468.59 233.03,469.08 234.00,469.29C234.97,469.49 236.45,469.57 237.90,469.66C239.35,469.75 241.10,469.69 242.70,469.83C244.30,469.97 246.07,470.06 247.50,470.50C248.93,470.95 250.18,472.09 251.30,472.52C252.42,472.95 252.97,472.98 254.20,473.07C255.43,473.16 257.15,473.17 258.70,473.07C260.25,472.96 261.90,472.65 263.50,472.44C265.10,472.22 266.70,472.10 268.30,471.76C269.90,471.43 271.50,470.85 273.10,470.42C274.70,469.99 276.30,469.52 277.90,469.20C279.50,468.89 281.27,468.60 282.70,468.53C284.13,468.46 285.22,468.54 286.50,468.78C287.78,469.03 288.95,469.66 290.40,470.00C291.85,470.34 293.77,470.55 295.20,470.80C296.63,471.04 297.72,471.40 299.00,471.47C300.28,471.54 301.45,471.22 302.90,471.22C304.35,471.22 306.27,471.43 307.70,471.47C309.13,471.51 310.07,471.58 311.50,471.47C312.93,471.36 314.68,470.94 316.30,470.80C317.92,470.66 319.43,470.74 321.20,470.63C322.97,470.52 324.98,470.27 326.90,470.17C328.82,470.06 330.93,469.89 332.70,470.00C334.47,470.11 335.90,470.55 337.50,470.80C339.10,471.04 340.53,471.36 342.30,471.47C344.07,471.58 346.37,471.47 348.10,471.47C349.83,471.47 350.65,471.55 352.70,471.47C354.75,471.39 357.83,471.14 360.40,470.97C362.97,470.79 365.87,470.58 368.10,470.42C370.33,470.26 372.52,470.20 373.80,470.00C375.08,469.80 375.15,469.17 375.80,469.20C376.45,469.23 377.07,470.11 377.70,470.17C378.33,470.23 378.97,469.40 379.60,469.58C380.23,469.75 380.85,471.22 381.50,471.22C382.15,471.22 382.22,469.75 383.50,469.58C384.78,469.40 387.28,470.03 389.20,470.17C391.12,470.31 393.07,470.29 395.00,470.42C396.93,470.55 398.88,470.83 400.80,470.97C402.72,471.10 404.27,471.13 406.50,471.22C408.73,471.30 411.63,471.51 414.20,471.47C416.77,471.43 419.65,471.14 421.90,470.97C424.15,470.79 425.77,470.55 427.70,470.42C429.63,470.29 432.15,470.04 433.50,470.17C434.85,470.30 435.23,471.32 435.80,471.22C436.37,471.12 436.00,469.71 436.90,469.58C437.80,469.45 438.43,470.28 441.20,470.42C443.97,470.56 450.33,470.32 453.50,470.42C456.67,470.52 457.97,470.93 460.20,471.01C462.43,471.08 464.67,470.90 466.90,470.88C469.13,470.86 471.35,470.90 473.60,470.88C475.85,470.87 478.15,470.88 480.40,470.80C482.65,470.72 485.35,470.31 487.10,470.42C488.85,470.53 490.12,471.58 490.90,471.47C491.68,471.36 490.87,469.94 491.80,469.75C492.73,469.56 494.58,470.24 496.50,470.34C498.42,470.43 502.17,470.34 503.30,470.34" stroke="#a2a2a2" stroke-width="0.9"/>
<path d="M92.20,470.99C93.28,471.03 96.18,471.10 98.70,471.21C101.22,471.31 104.72,471.51 107.30,471.63C109.88,471.75 112.18,471.76 114.20,471.92C116.22,472.07 118.18,472.37 119.40,472.56C120.62,472.75 120.82,472.84 121.50,473.05C122.18,473.27 122.88,473.47 123.50,473.83C124.12,474.20 124.68,474.71 125.20,475.25C125.72,475.80 126.20,476.39 126.60,477.10C127.00,477.81 127.25,478.01 127.60,479.51C127.95,481.02 128.38,482.97 128.70,486.12C129.02,489.26 129.25,493.99 129.50,498.40C129.75,502.81 130.00,508.46 130.20,512.60C130.40,516.74 130.48,517.33 130.70,523.25C130.92,529.17 131.27,540.53 131.50,548.10C131.73,555.67 131.90,568.10 132.10,568.69C132.30,569.28 132.50,557.45 132.70,551.65C132.90,545.85 133.12,539.22 133.30,533.90C133.48,528.58 133.65,525.62 133.80,519.70C133.95,513.78 134.08,505.50 134.20,498.40C134.32,491.30 134.40,482.54 134.50,477.10C134.60,471.66 134.67,468.82 134.80,465.74C134.93,462.66 135.12,460.77 135.30,458.64C135.48,456.51 135.67,455.20 135.90,452.96C136.13,450.72 136.42,447.85 136.70,445.22C136.98,442.59 137.30,439.00 137.60,437.20C137.90,435.40 138.13,434.32 138.50,434.43C138.87,434.54 139.45,436.24 139.80,437.84C140.15,439.43 140.23,441.54 140.60,444.01C140.97,446.49 141.55,450.31 142.00,452.68C142.45,455.04 142.80,456.66 143.30,458.21C143.80,459.76 144.50,461.46 145.00,461.98C145.50,462.50 145.87,461.91 146.30,461.34C146.73,460.77 147.17,459.09 147.60,458.57C148.03,458.05 148.47,457.55 148.90,458.21C149.33,458.88 149.83,461.10 150.20,462.55C150.57,463.99 150.82,465.39 151.10,466.88C151.38,468.37 151.45,469.69 151.90,471.49C152.35,473.29 153.20,475.79 153.80,477.67C154.40,479.55 155.00,481.51 155.50,482.78C156.00,484.05 156.35,484.73 156.80,485.26C157.25,485.80 157.70,486.09 158.20,485.98C158.70,485.86 159.25,485.37 159.80,484.56C160.35,483.74 160.88,482.57 161.50,481.08C162.12,479.59 162.93,477.21 163.50,475.61C164.07,474.01 164.35,472.52 164.90,471.49C165.45,470.46 166.08,470.06 166.80,469.43C167.52,468.80 168.32,468.30 169.20,467.73C170.08,467.16 171.22,466.37 172.10,466.02C172.98,465.68 173.78,465.38 174.50,465.67C175.22,465.95 175.68,467.04 176.40,467.73C177.12,468.41 177.92,469.27 178.80,469.79C179.68,470.31 180.73,470.73 181.70,470.85C182.67,470.97 183.63,470.73 184.60,470.50C185.57,470.26 186.70,469.67 187.50,469.43C188.30,469.20 188.60,468.90 189.40,469.08C190.20,469.25 191.33,470.09 192.30,470.50C193.27,470.90 194.23,471.04 195.20,471.49C196.17,471.94 197.20,472.73 198.10,473.19C199.00,473.66 199.45,474.33 200.60,474.26C201.75,474.19 203.68,473.02 205.00,472.77C206.32,472.52 207.18,472.52 208.50,472.77C209.82,473.02 211.57,473.99 212.90,474.26C214.23,474.53 215.07,474.86 216.50,474.40C217.93,473.94 220.02,472.43 221.50,471.49C222.98,470.56 224.12,469.48 225.40,468.79C226.68,468.11 228.08,467.61 229.20,467.37C230.32,467.14 231.30,467.14 232.10,467.37C232.90,467.61 233.03,468.45 234.00,468.79C234.97,469.14 236.45,469.28 237.90,469.43C239.35,469.59 241.10,469.48 242.70,469.72C244.30,469.95 246.07,470.09 247.50,470.85C248.93,471.61 250.18,473.54 251.30,474.26C252.42,474.98 252.97,475.03 254.20,475.18C255.43,475.34 257.15,475.36 258.70,475.18C260.25,475.01 261.90,474.48 263.50,474.12C265.10,473.75 266.70,473.55 268.30,472.98C269.90,472.41 271.50,471.43 273.10,470.71C274.70,469.99 276.30,469.18 277.90,468.65C279.50,468.12 281.27,467.63 282.70,467.51C284.13,467.40 285.22,467.53 286.50,467.94C287.78,468.36 288.95,469.43 290.40,470.00C291.85,470.57 293.77,470.93 295.20,471.35C296.63,471.76 297.72,472.37 299.00,472.49C300.28,472.60 301.45,472.06 302.90,472.06C304.35,472.06 306.27,472.41 307.70,472.49C309.13,472.56 310.07,472.67 311.50,472.49C312.93,472.30 314.68,471.59 316.30,471.35C317.92,471.11 319.43,471.24 321.20,471.06C322.97,470.89 324.98,470.46 326.90,470.28C328.82,470.11 330.93,469.82 332.70,470.00C334.47,470.18 335.90,470.93 337.50,471.35C339.10,471.76 340.53,472.30 342.30,472.49C344.07,472.67 346.37,472.49 348.10,472.49C349.83,472.49 350.65,472.63 352.70,472.49C354.75,472.34 357.83,471.93 360.40,471.63C362.97,471.34 365.87,470.98 368.10,470.71C370.33,470.44 372.52,470.34 373.80,470.00C375.08,469.66 375.15,468.60 375.80,468.65C376.45,468.70 377.07,470.18 377.70,470.28C378.33,470.39 378.97,468.99 379.60,469.29C380.23,469.59 380.85,472.06 381.50,472.06C382.15,472.06 382.22,469.59 383.50,469.29C384.78,468.99 387.28,470.05 389.20,470.28C391.12,470.52 393.07,470.49 395.00,470.71C396.93,470.93 398.88,471.41 400.80,471.63C402.72,471.86 404.27,471.92 406.50,472.06C408.73,472.20 411.63,472.56 414.20,472.49C416.77,472.41 419.65,471.93 421.90,471.63C424.15,471.34 425.77,470.93 427.70,470.71C429.63,470.49 432.15,470.06 433.50,470.28C434.85,470.51 435.23,472.22 435.80,472.06C436.37,471.89 436.00,469.51 436.90,469.29C437.80,469.07 438.43,470.47 441.20,470.71C443.97,470.95 450.33,470.54 453.50,470.71C456.67,470.88 457.97,471.57 460.20,471.70C462.43,471.83 464.67,471.53 466.90,471.49C469.13,471.46 471.35,471.51 473.60,471.49C475.85,471.47 478.15,471.48 480.40,471.35C482.65,471.22 485.35,470.52 487.10,470.71C488.85,470.90 490.12,472.67 490.90,472.49C491.68,472.30 490.87,469.89 491.80,469.57C492.73,469.25 494.58,470.40 496.50,470.57C498.42,470.73 502.17,470.57 503.30,470.57" stroke="#a2a2a2" stroke-width="0.9"/>
<path d="M92.20,471.29C93.28,471.33 96.18,471.43 98.70,471.56C101.22,471.70 104.72,471.96 107.30,472.12C109.88,472.27 112.18,472.28 114.20,472.48C116.22,472.68 118.18,473.07 119.40,473.31C120.62,473.56 120.82,473.68 121.50,473.96C122.18,474.23 122.88,474.49 123.50,474.97C124.12,475.44 124.68,476.10 125.20,476.81C125.72,477.51 126.20,478.28 126.60,479.20C127.00,480.12 127.25,480.38 127.60,482.33C127.95,484.28 128.38,486.81 128.70,490.88C129.02,494.96 129.25,501.08 129.50,506.80C129.75,512.52 130.00,519.83 130.20,525.20C130.40,530.57 130.48,531.33 130.70,539.00C130.92,546.67 131.27,561.39 131.50,571.20C131.73,581.01 131.90,597.11 132.10,597.88C132.30,598.65 132.50,583.31 132.70,575.80C132.90,568.29 133.12,559.70 133.30,552.80C133.48,545.90 133.65,542.07 133.80,534.40C133.95,526.73 134.08,516.00 134.20,506.80C134.32,497.60 134.40,486.25 134.50,479.20C134.60,472.15 134.67,468.47 134.80,464.48C134.93,460.49 135.12,458.04 135.30,455.28C135.48,452.52 135.67,450.82 135.90,447.92C136.13,445.02 136.42,441.30 136.70,437.89C136.98,434.49 137.30,429.83 137.60,427.50C137.90,425.17 138.13,423.77 138.50,423.91C138.87,424.05 139.45,426.25 139.80,428.32C140.15,430.39 140.23,433.12 140.60,436.33C140.97,439.53 141.55,444.49 142.00,447.55C142.45,450.62 142.80,452.72 143.30,454.73C143.80,456.74 144.50,458.93 145.00,459.60C145.50,460.28 145.87,459.51 146.30,458.78C146.73,458.04 147.17,455.86 147.60,455.19C148.03,454.51 148.47,453.87 148.90,454.73C149.33,455.59 149.83,458.47 150.20,460.34C150.57,462.21 150.82,464.02 151.10,465.95C151.38,467.88 151.45,469.60 151.90,471.93C152.35,474.26 153.20,477.50 153.80,479.94C154.40,482.37 155.00,484.92 155.50,486.56C156.00,488.20 156.35,489.09 156.80,489.78C157.25,490.47 157.70,490.85 158.20,490.70C158.70,490.55 159.25,489.92 159.80,488.86C160.35,487.80 160.88,486.28 161.50,484.35C162.12,482.42 162.93,479.34 163.50,477.27C164.07,475.20 164.35,473.27 164.90,471.93C165.45,470.60 166.08,470.08 166.80,469.26C167.52,468.45 168.32,467.79 169.20,467.06C170.08,466.32 171.22,465.29 172.10,464.85C172.98,464.40 173.78,464.02 174.50,464.39C175.22,464.76 175.68,466.17 176.40,467.06C177.12,467.95 177.92,469.05 178.80,469.72C179.68,470.40 180.73,470.95 181.70,471.10C182.67,471.26 183.63,470.95 184.60,470.64C185.57,470.34 186.70,469.57 187.50,469.26C188.30,468.96 188.60,468.57 189.40,468.80C190.20,469.03 191.33,470.12 192.30,470.64C193.27,471.17 194.23,471.35 195.20,471.93C196.17,472.51 197.20,473.54 198.10,474.14C199.00,474.74 199.45,475.61 200.60,475.52C201.75,475.43 203.68,473.91 205.00,473.59C206.32,473.27 207.18,473.27 208.50,473.59C209.82,473.91 211.57,475.17 212.90,475.52C214.23,475.87 215.07,476.30 216.50,475.70C217.93,475.11 220.02,473.14 221.50,471.93C222.98,470.72 224.12,469.33 225.40,468.44C226.68,467.55 228.08,466.90 229.20,466.60C230.32,466.29 231.30,466.29 232.10,466.60C232.90,466.90 233.03,467.99 234.00,468.44C234.97,468.88 236.45,469.06 237.90,469.26C239.35,469.46 241.10,469.33 242.70,469.63C244.30,469.94 246.07,470.12 247.50,471.10C248.93,472.09 250.18,474.58 251.30,475.52C252.42,476.46 252.97,476.52 254.20,476.72C255.43,476.92 257.15,476.95 258.70,476.72C260.25,476.49 261.90,475.81 263.50,475.34C265.10,474.86 266.70,474.60 268.30,473.86C269.90,473.13 271.50,471.86 273.10,470.92C274.70,469.98 276.30,468.94 277.90,468.25C279.50,467.56 281.27,466.93 282.70,466.78C284.13,466.63 285.22,466.80 286.50,467.33C287.78,467.87 288.95,469.26 290.40,470.00C291.85,470.74 293.77,471.21 295.20,471.75C296.63,472.28 297.72,473.07 299.00,473.22C300.28,473.37 301.45,472.67 302.90,472.67C304.35,472.67 306.27,473.13 307.70,473.22C309.13,473.31 310.07,473.47 311.50,473.22C312.93,472.97 314.68,472.05 316.30,471.75C317.92,471.44 319.43,471.61 321.20,471.38C322.97,471.15 324.98,470.60 326.90,470.37C328.82,470.14 330.93,469.77 332.70,470.00C334.47,470.23 335.90,471.21 337.50,471.75C339.10,472.28 340.53,472.97 342.30,473.22C344.07,473.47 346.37,473.22 348.10,473.22C349.83,473.22 350.65,473.40 352.70,473.22C354.75,473.04 357.83,472.50 360.40,472.12C362.97,471.73 365.87,471.27 368.10,470.92C370.33,470.57 372.52,470.44 373.80,470.00C375.08,469.56 375.15,468.19 375.80,468.25C376.45,468.31 377.07,470.23 377.70,470.37C378.33,470.51 378.97,468.70 379.60,469.08C380.23,469.46 380.85,472.67 381.50,472.67C382.15,472.67 382.22,469.46 383.50,469.08C384.78,468.70 387.28,470.06 389.20,470.37C391.12,470.67 393.07,470.63 395.00,470.92C396.93,471.21 398.88,471.82 400.80,472.12C402.72,472.41 404.27,472.48 406.50,472.67C408.73,472.85 411.63,473.31 414.20,473.22C416.77,473.13 419.65,472.50 421.90,472.12C424.15,471.73 425.77,471.21 427.70,470.92C429.63,470.63 432.15,470.08 433.50,470.37C434.85,470.66 435.23,472.88 435.80,472.67C436.37,472.45 436.00,469.37 436.90,469.08C437.80,468.79 438.43,470.61 441.20,470.92C443.97,471.23 450.33,470.71 453.50,470.92C456.67,471.13 457.97,472.04 460.20,472.21C462.43,472.38 464.67,471.98 466.90,471.93C469.13,471.89 471.35,471.96 473.60,471.93C475.85,471.90 478.15,471.92 480.40,471.75C482.65,471.58 485.35,470.67 487.10,470.92C488.85,471.17 490.12,473.47 490.90,473.22C491.68,472.97 490.87,469.86 491.80,469.45C492.73,469.03 494.58,470.52 496.50,470.74C498.42,470.95 502.17,470.74 503.30,470.74" stroke="#a2a2a2" stroke-width="0.9"/>
<path d="M92.20,471.40C93.28,471.45 96.18,471.55 98.70,471.70C101.22,471.85 104.72,472.13 107.30,472.30C109.88,472.47 112.18,472.48 114.20,472.70C116.22,472.92 118.18,473.33 119.40,473.60C120.62,473.87 120.82,474.00 121.50,474.30C122.18,474.60 122.88,474.88 123.50,475.40C124.12,475.92 124.68,476.63 125.20,477.40C125.72,478.17 126.20,479.00 126.60,480.00C127.00,481.00 127.25,481.28 127.60,483.40C127.95,485.52 128.38,488.27 128.70,492.70C129.02,497.13 129.25,503.78 129.50,510.00C129.75,516.22 130.00,524.17 130.20,530.00C130.40,535.83 130.48,536.67 130.70,545.00C130.92,553.33 131.27,569.33 131.50,580.00C131.73,590.67 131.90,608.17 132.10,609.00C132.30,609.83 132.50,593.17 132.70,585.00C132.90,576.83 133.12,567.50 133.30,560.00C133.48,552.50 133.65,548.33 133.80,540.00C133.95,531.67 134.08,520.00 134.20,510.00C134.32,500.00 134.40,487.67 134.50,480.00C134.60,472.33 134.67,468.33 134.80,464.00C134.93,459.67 135.12,457.00 135.30,454.00C135.48,451.00 135.67,449.15 135.90,446.00C136.13,442.85 136.42,438.80 136.70,435.10C136.98,431.40 137.30,426.33 137.60,423.80C137.90,421.27 138.13,419.75 138.50,419.90C138.87,420.05 139.45,422.45 139.80,424.70C140.15,426.95 140.23,429.92 140.60,433.40C140.97,436.88 141.55,442.27 142.00,445.60C142.45,448.93 142.80,451.22 143.30,453.40C143.80,455.58 144.50,457.97 145.00,458.70C145.50,459.43 145.87,458.60 146.30,457.80C146.73,457.00 147.17,454.63 147.60,453.90C148.03,453.17 148.47,452.47 148.90,453.40C149.33,454.33 149.83,457.47 150.20,459.50C150.57,461.53 150.82,463.50 151.10,465.60C151.38,467.70 151.45,469.57 151.90,472.10C152.35,474.63 153.20,478.15 153.80,480.80C154.40,483.45 155.00,486.22 155.50,488.00C156.00,489.78 156.35,490.75 156.80,491.50C157.25,492.25 157.70,492.67 158.20,492.50C158.70,492.33 159.25,491.65 159.80,490.50C160.35,489.35 160.88,487.70 161.50,485.60C162.12,483.50 162.93,480.15 163.50,477.90C164.07,475.65 164.35,473.55 164.90,472.10C165.45,470.65 166.08,470.08 166.80,469.20C167.52,468.32 168.32,467.60 169.20,466.80C170.08,466.00 171.22,464.88 172.10,464.40C172.98,463.92 173.78,463.50 174.50,463.90C175.22,464.30 175.68,465.83 176.40,466.80C177.12,467.77 177.92,468.97 178.80,469.70C179.68,470.43 180.73,471.03 181.70,471.20C182.67,471.37 183.63,471.03 184.60,470.70C185.57,470.37 186.70,469.53 187.50,469.20C188.30,468.87 188.60,468.45 189.40,468.70C190.20,468.95 191.33,470.13 192.30,470.70C193.27,471.27 194.23,471.47 195.20,472.10C196.17,472.73 197.20,473.85 198.10,474.50C199.00,475.15 199.45,476.10 200.60,476.00C201.75,475.90 203.68,474.25 205.00,473.90C206.32,473.55 207.18,473.55 208.50,473.90C209.82,474.25 211.57,475.62 212.90,476.00C214.23,476.38 215.07,476.85 216.50,476.20C217.93,475.55 220.02,473.42 221.50,472.10C222.98,470.78 224.12,469.27 225.40,468.30C226.68,467.33 228.08,466.63 229.20,466.30C230.32,465.97 231.30,465.97 232.10,466.30C232.90,466.63 233.03,467.82 234.00,468.30C234.97,468.78 236.45,468.98 237.90,469.20C239.35,469.42 241.10,469.27 242.70,469.60C244.30,469.93 246.07,470.13 247.50,471.20C248.93,472.27 250.18,474.98 251.30,476.00C252.42,477.02 252.97,477.08 254.20,477.30C255.43,477.52 257.15,477.55 258.70,477.30C260.25,477.05 261.90,476.32 263.50,475.80C265.10,475.28 266.70,475.00 268.30,474.20C269.90,473.40 271.50,472.02 273.10,471.00C274.70,469.98 276.30,468.85 277.90,468.10C279.50,467.35 281.27,466.67 282.70,466.50C284.13,466.33 285.22,466.52 286.50,467.10C287.78,467.68 288.95,469.20 290.40,470.00C291.85,470.80 293.77,471.32 295.20,471.90C296.63,472.48 297.72,473.33 299.00,473.50C300.28,473.67 301.45,472.90 302.90,472.90C304.35,472.90 306.27,473.40 307.70,473.50C309.13,473.60 310.07,473.77 311.50,473.50C312.93,473.23 314.68,472.23 316.30,471.90C317.92,471.57 319.43,471.75 321.20,471.50C322.97,471.25 324.98,470.65 326.90,470.40C328.82,470.15 330.93,469.75 332.70,470.00C334.47,470.25 335.90,471.32 337.50,471.90C339.10,472.48 340.53,473.23 342.30,473.50C344.07,473.77 346.37,473.50 348.10,473.50C349.83,473.50 350.65,473.70 352.70,473.50C354.75,473.30 357.83,472.72 360.40,472.30C362.97,471.88 365.87,471.38 368.10,471.00C370.33,470.62 372.52,470.48 373.80,470.00C375.08,469.52 375.15,468.03 375.80,468.10C376.45,468.17 377.07,470.25 377.70,470.40C378.33,470.55 378.97,468.58 379.60,469.00C380.23,469.42 380.85,472.90 381.50,472.90C382.15,472.90 382.22,469.42 383.50,469.00C384.78,468.58 387.28,470.07 389.20,470.40C391.12,470.73 393.07,470.68 395.00,471.00C396.93,471.32 398.88,471.98 400.80,472.30C402.72,472.62 404.27,472.70 406.50,472.90C408.73,473.10 411.63,473.60 414.20,473.50C416.77,473.40 419.65,472.72 421.90,472.30C424.15,471.88 425.77,471.32 427.70,471.00C429.63,470.68 432.15,470.08 433.50,470.40C434.85,470.72 435.23,473.13 435.80,472.90C436.37,472.67 436.00,469.32 436.90,469.00C437.80,468.68 438.43,470.67 441.20,471.00C443.97,471.33 450.33,470.77 453.50,471.00C456.67,471.23 457.97,472.22 460.20,472.40C462.43,472.58 464.67,472.15 466.90,472.10C469.13,472.05 471.35,472.13 473.60,472.10C475.85,472.07 478.15,472.08 480.40,471.90C482.65,471.72 485.35,470.73 487.10,471.00C488.85,471.27 490.12,473.77 490.90,473.50C491.68,473.23 490.87,469.85 491.80,469.40C492.73,468.95 494.58,470.57 496.50,470.80C498.42,471.03 502.17,470.80 503.30,470.80" stroke="#a2a2a2" stroke-width="0.9"/>
<polyline points="374.6,469.5 375.8,461.8 377,469.5" stroke="#a2a2a2" stroke-width="1"/>
<polyline points="490.6,469.5 491.5,475.5 492.4,469.5" stroke="#a2a2a2" stroke-width="1"/>
<path d="M92.20,468.60C93.28,468.55 96.18,468.45 98.70,468.30C101.22,468.15 104.72,467.87 107.30,467.70C109.88,467.53 112.18,467.52 114.20,467.30C116.22,467.08 118.18,466.67 119.40,466.40C120.62,466.13 120.82,466.00 121.50,465.70C122.18,465.40 122.88,465.12 123.50,464.60C124.12,464.08 124.68,463.37 125.20,462.60C125.72,461.83 126.20,461.00 126.60,460.00C127.00,459.00 127.25,458.72 127.60,456.60C127.95,454.48 128.38,451.73 128.70,447.30C129.02,442.87 129.25,436.22 129.50,430.00C129.75,423.78 130.00,415.83 130.20,410.00C130.40,404.17 130.48,403.33 130.70,395.00C130.92,386.67 131.27,370.67 131.50,360.00C131.73,349.33 131.90,331.83 132.10,331.00C132.30,330.17 132.50,346.83 132.70,355.00C132.90,363.17 133.12,372.50 133.30,380.00C133.48,387.50 133.65,391.67 133.80,400.00C133.95,408.33 134.08,420.00 134.20,430.00C134.32,440.00 134.40,452.33 134.50,460.00C134.60,467.67 134.67,471.67 134.80,476.00C134.93,480.33 135.12,483.00 135.30,486.00C135.48,489.00 135.67,490.85 135.90,494.00C136.13,497.15 136.42,501.20 136.70,504.90C136.98,508.60 137.30,513.67 137.60,516.20C137.90,518.73 138.13,520.25 138.50,520.10C138.87,519.95 139.45,517.55 139.80,515.30C140.15,513.05 140.23,510.08 140.60,506.60C140.97,503.12 141.55,497.73 142.00,494.40C142.45,491.07 142.80,488.78 143.30,486.60C143.80,484.42 144.50,482.03 145.00,481.30C145.50,480.57 145.87,481.40 146.30,482.20C146.73,483.00 147.17,485.37 147.60,486.10C148.03,486.83 148.47,487.53 148.90,486.60C149.33,485.67 149.83,482.53 150.20,480.50C150.57,478.47 150.82,476.50 151.10,474.40C151.38,472.30 151.45,470.43 151.90,467.90C152.35,465.37 153.20,461.85 153.80,459.20C154.40,456.55 155.00,453.78 155.50,452.00C156.00,450.22 156.35,449.25 156.80,448.50C157.25,447.75 157.70,447.33 158.20,447.50C158.70,447.67 159.25,448.35 159.80,449.50C160.35,450.65 160.88,452.30 161.50,454.40C162.12,456.50 162.93,459.85 163.50,462.10C164.07,464.35 164.35,466.45 164.90,467.90C165.45,469.35 166.08,469.92 166.80,470.80C167.52,471.68 168.32,472.40 169.20,473.20C170.08,474.00 171.22,475.12 172.10,475.60C172.98,476.08 173.78,476.50 174.50,476.10C175.22,475.70 175.68,474.17 176.40,473.20C177.12,472.23 177.92,471.03 178.80,470.30C179.68,469.57 180.73,468.97 181.70,468.80C182.67,468.63 183.63,468.97 184.60,469.30C185.57,469.63 186.70,470.47 187.50,470.80C188.30,471.13 188.60,471.55 189.40,471.30C190.20,471.05 191.33,469.87 192.30,469.30C193.27,468.73 194.23,468.53 195.20,467.90C196.17,467.27 197.20,466.15 198.10,465.50C199.00,464.85 199.45,463.90 200.60,464.00C201.75,464.10 203.68,465.75 205.00,466.10C206.32,466.45 207.18,466.45 208.50,466.10C209.82,465.75 211.57,464.38 212.90,464.00C214.23,463.62 215.07,463.15 216.50,463.80C217.93,464.45 220.02,466.58 221.50,467.90C222.98,469.22 224.12,470.73 225.40,471.70C226.68,472.67 228.08,473.37 229.20,473.70C230.32,474.03 231.30,474.03 232.10,473.70C232.90,473.37 233.03,472.18 234.00,471.70C234.97,471.22 236.45,471.02 237.90,470.80C239.35,470.58 241.10,470.73 242.70,470.40C244.30,470.07 246.07,469.87 247.50,468.80C248.93,467.73 250.18,465.02 251.30,464.00C252.42,462.98 252.97,462.92 254.20,462.70C255.43,462.48 257.15,462.45 258.70,462.70C260.25,462.95 261.90,463.68 263.50,464.20C265.10,464.72 266.70,465.00 268.30,465.80C269.90,466.60 271.50,467.98 273.10,469.00C274.70,470.02 276.30,471.15 277.90,471.90C279.50,472.65 281.27,473.33 282.70,473.50C284.13,473.67 285.22,473.48 286.50,472.90C287.78,472.32 288.95,470.80 290.40,470.00C291.85,469.20 293.77,468.68 295.20,468.10C296.63,467.52 297.72,466.67 299.00,466.50C300.28,466.33 301.45,467.10 302.90,467.10C304.35,467.10 306.27,466.60 307.70,466.50C309.13,466.40 310.07,466.23 311.50,466.50C312.93,466.77 314.68,467.77 316.30,468.10C317.92,468.43 319.43,468.25 321.20,468.50C322.97,468.75 324.98,469.35 326.90,469.60C328.82,469.85 330.93,470.25 332.70,470.00C334.47,469.75 335.90,468.68 337.50,468.10C339.10,467.52 340.53,466.77 342.30,466.50C344.07,466.23 346.37,466.50 348.10,466.50C349.83,466.50 350.65,466.30 352.70,466.50C354.75,466.70 357.83,467.28 360.40,467.70C362.97,468.12 365.87,468.62 368.10,469.00C370.33,469.38 372.52,469.52 373.80,470.00C375.08,470.48 375.15,471.97 375.80,471.90C376.45,471.83 377.07,469.75 377.70,469.60C378.33,469.45 378.97,471.42 379.60,471.00C380.23,470.58 380.85,467.10 381.50,467.10C382.15,467.10 382.22,470.58 383.50,471.00C384.78,471.42 387.28,469.93 389.20,469.60C391.12,469.27 393.07,469.32 395.00,469.00C396.93,468.68 398.88,468.02 400.80,467.70C402.72,467.38 404.27,467.30 406.50,467.10C408.73,466.90 411.63,466.40 414.20,466.50C416.77,466.60 419.65,467.28 421.90,467.70C424.15,468.12 425.77,468.68 427.70,469.00C429.63,469.32 432.15,469.92 433.50,469.60C434.85,469.28 435.23,466.87 435.80,467.10C436.37,467.33 436.00,470.68 436.90,471.00C437.80,471.32 438.43,469.33 441.20,469.00C443.97,468.67 450.33,469.23 453.50,469.00C456.67,468.77 457.97,467.78 460.20,467.60C462.43,467.42 464.67,467.85 466.90,467.90C469.13,467.95 471.35,467.87 473.60,467.90C475.85,467.93 478.15,467.92 480.40,468.10C482.65,468.28 485.35,469.27 487.10,469.00C488.85,468.73 490.12,466.23 490.90,466.50C491.68,466.77 490.87,470.15 491.80,470.60C492.73,471.05 494.58,469.43 496.50,469.20C498.42,468.97 502.17,469.20 503.30,469.20" stroke="#dc1420" stroke-width="1.9"/>
</g>
<g stroke="#000" stroke-width="1.9" fill="none" stroke-linecap="butt">
<line x1="87.3" y1="1.75" x2="505.0" y2="1.75"/>
<line x1="83.3" y1="622.4" x2="505.0" y2="622.4"/>
<line x1="92.3" y1="1.75" x2="92.3" y2="306.7"/>
<line x1="92.3" y1="317.5" x2="92.3" y2="631.4"/>
<line x1="504.0" y1="1.75" x2="504.0" y2="306.7"/>
<line x1="504.0" y1="317.5" x2="504.0" y2="623.4"/>
</g>
<g stroke="#000" stroke-width="1.9">
<line x1="83.3" y1="312.1" x2="101.3" y2="301.3"/>
<line x1="83.3" y1="322.9" x2="101.3" y2="312.1"/>
<line x1="495.0" y1="312.1" x2="513.0" y2="301.3"/>
<line x1="495.0" y1="322.9" x2="513.0" y2="312.1"/>
</g>
<g stroke="#000" stroke-width="1.5"><line x1="82.8" y1="39.8" x2="92.3" y2="39.8"/><line x1="87.3" y1="77.9" x2="92.3" y2="77.9"/><line x1="82.8" y1="116.1" x2="92.3" y2="116.1"/><line x1="87.3" y1="154.2" x2="92.3" y2="154.2"/><line x1="82.8" y1="192.4" x2="92.3" y2="192.4"/><line x1="87.3" y1="230.6" x2="92.3" y2="230.6"/><line x1="82.8" y1="268.7" x2="92.3" y2="268.7"/><line x1="87.3" y1="355.7" x2="92.3" y2="355.7"/><line x1="82.8" y1="393.8" x2="92.3" y2="393.8"/><line x1="87.3" y1="431.9" x2="92.3" y2="431.9"/><line x1="82.8" y1="470.0" x2="92.3" y2="470.0"/><line x1="87.3" y1="508.1" x2="92.3" y2="508.1"/><line x1="82.8" y1="546.2" x2="92.3" y2="546.2"/><line x1="87.3" y1="584.3" x2="92.3" y2="584.3"/><line x1="91.8" y1="622.4" x2="91.8" y2="631.4"/><line x1="121.2" y1="622.4" x2="121.2" y2="627.4"/><line x1="150.7" y1="622.4" x2="150.7" y2="631.4"/><line x1="180.1" y1="622.4" x2="180.1" y2="627.4"/><line x1="209.5" y1="622.4" x2="209.5" y2="631.4"/><line x1="238.9" y1="622.4" x2="238.9" y2="627.4"/><line x1="268.4" y1="622.4" x2="268.4" y2="631.4"/><line x1="297.8" y1="622.4" x2="297.8" y2="627.4"/><line x1="327.2" y1="622.4" x2="327.2" y2="631.4"/><line x1="356.7" y1="622.4" x2="356.7" y2="627.4"/><line x1="386.1" y1="622.4" x2="386.1" y2="631.4"/><line x1="415.5" y1="622.4" x2="415.5" y2="627.4"/><line x1="445.0" y1="622.4" x2="445.0" y2="631.4"/><line x1="474.4" y1="622.4" x2="474.4" y2="627.4"/><line x1="503.8" y1="622.4" x2="503.8" y2="631.4"/></g>
<g stroke="#000" stroke-width="0.3" fill="#000">
<g font-family="Liberation Sans, Arial, sans-serif" font-size="16.3" fill="#000"><text transform="translate(76.5,44.8) scale(1.05,1)" text-anchor="end">1.0</text><text transform="translate(76.5,121.1) scale(1.05,1)" text-anchor="end">0.8</text><text transform="translate(76.5,197.4) scale(1.05,1)" text-anchor="end">0.6</text><text transform="translate(76.5,273.7) scale(1.05,1)" text-anchor="end">0.4</text><text transform="translate(76.5,398.8) scale(1.05,1)" text-anchor="end">0.01</text><text transform="translate(76.5,475.0) scale(1.05,1)" text-anchor="end">0.00</text><text transform="translate(76.5,551.2) scale(1.05,1)" text-anchor="end">-0.01</text><text transform="translate(76.5,627.4) scale(1.05,1)" text-anchor="end">-0.02</text><text transform="translate(92.1,650.7) scale(1.05,1)" text-anchor="middle">11.5</text><text transform="translate(151.0,650.7) scale(1.05,1)" text-anchor="middle">11.6</text><text transform="translate(209.8,650.7) scale(1.05,1)" text-anchor="middle">11.7</text><text transform="translate(268.7,650.7) scale(1.05,1)" text-anchor="middle">11.8</text><text transform="translate(327.5,650.7) scale(1.05,1)" text-anchor="middle">11.9</text><text transform="translate(386.4,650.7) scale(1.05,1)" text-anchor="middle">12.0</text><text transform="translate(445.3,650.7) scale(1.05,1)" text-anchor="middle">12.1</text><text transform="translate(504.1,650.7) scale(1.05,1)" text-anchor="middle">12.2</text></g>
<text font-family="Liberation Sans, Arial, sans-serif" font-size="22.8" transform="translate(276.5,34.6)">time-resolved</text>
<text font-family="Liberation Sans, Arial, sans-serif" font-size="22" transform="translate(101.7,291.1) scale(1.04,1)">Pt L<tspan font-size="13.6" dy="6.6">III</tspan><tspan dy="-6.6">-edge</tspan></text>
<text font-family="Liberation Sans, Arial, sans-serif" font-size="22" transform="translate(303.6,348.6) scale(1.052,1)">phase-resolved</text>
<text font-family="Liberation Sans, Arial, sans-serif" font-size="22.5" transform="translate(303.8,376.7) scale(1.0,1)"><tspan font-family="Liberation Serif, Times New Roman, serif">φ</tspan>= 0-180°, <tspan font-family="Liberation Serif, Times New Roman, serif">Δφ</tspan>= 20°</text>
<text font-family="Liberation Sans, Arial, sans-serif" font-size="21.3" transform="translate(298.1,684.9) scale(1.017,1)" text-anchor="middle">photon energy (keV)</text>
<text font-family="Liberation Sans, Arial, sans-serif" font-size="21.4" transform="translate(15.7,304) rotate(-90)" text-anchor="middle">absorption (a.u.)</text>
</g>
</svg>
</body></html>
